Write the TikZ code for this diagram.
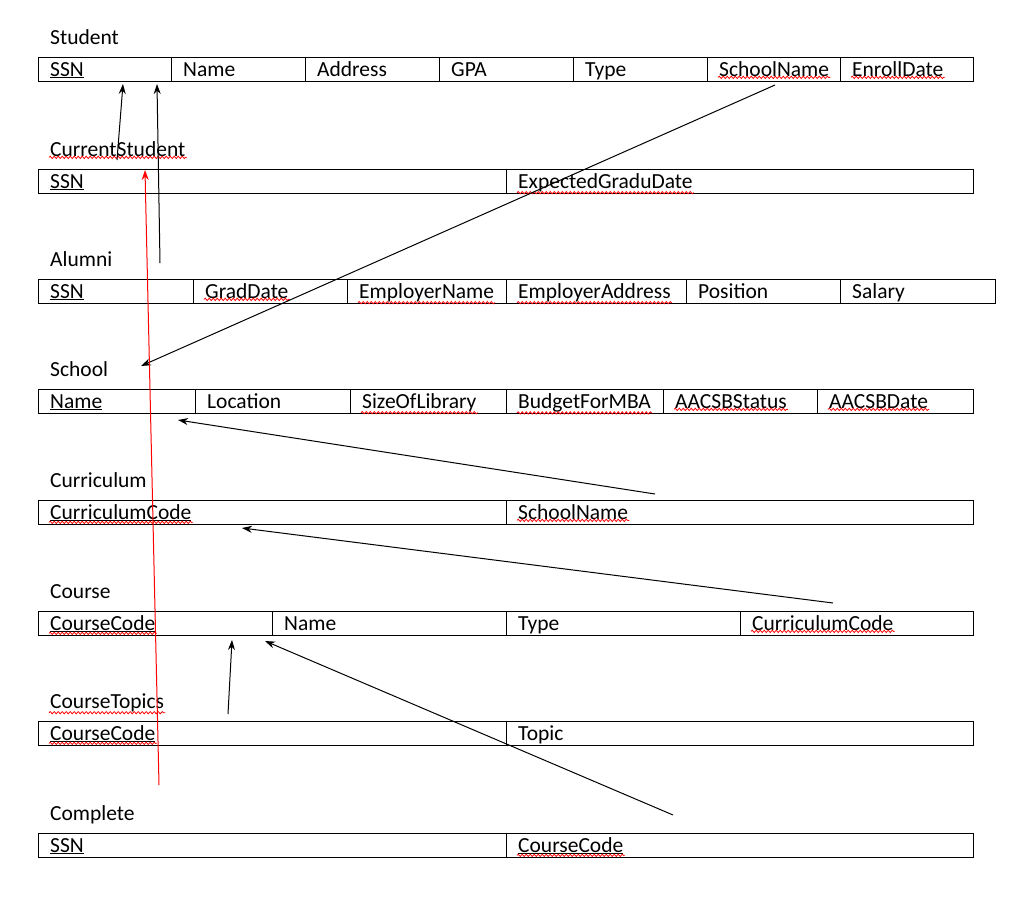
\documentclass[tikz,border=0pt]{standalone}
\usepackage{fontspec}
\setmainfont{Carlito}
\usetikzlibrary{arrows.meta, decorations.pathmorphing}

\tikzset{
  cell/.style={anchor=base west, inner sep=1pt, font=\fontsize{21.5}{24}\selectfont},
  plain/.style={},
  typo/.style={append after command={(\tikzlastnode.south west) edge[squiggle] (\tikzlastnode.south east)}},
  squiggle/.style={draw=red, line width=0.8pt, decorate, decoration={snake, amplitude=1.1pt, segment length=4pt}},
  fk/.style={-{Stealth[length=10pt,width=7pt]}, line width=1pt},
}

% #1 id, #2 title, #3 title style, #4 top y, #5 right x, #6 cells x/text/style
\newcommand{\relation}[6]{
  \node[cell,#3] (#1) at (49,#4-13) {#2};
  \draw[line width=1pt] (38,#4) rectangle (#5,#4+24);
  \foreach \x/\txt/\sty [count=\i] in {#6}{
    \ifnum\x>38 \draw[line width=1pt] (\x,#4) -- (\x,#4+24);\fi
    \node[cell,\sty] (#1-\i) at (\x+11,#4+19) {\txt};
  }
}

\begin{document}
\begin{tikzpicture}[x=1pt, y=-1pt]
\useasboundingbox (0,0) rectangle (1026,900);

% Relations
\relation{student}{Student}{plain}{57}{973}{38/\underline{SSN}/plain, 171/Name/plain, 305/Address/plain, 439/GPA/plain, 573/Type/plain, 707/SchoolName/typo, 840/EnrollDate/typo}
\relation{current}{CurrentStudent}{typo}{169}{973}{38/\underline{SSN}/plain, 506/ExpectedGraduDate/typo}
\relation{alumni}{Alumni}{plain}{279}{995}{38/\underline{SSN}/plain, 193/GradDate/typo, 347/EmployerName/typo, 506/EmployerAddress/typo, 686/Position/plain, 840/Salary/plain}
\relation{school}{School}{plain}{389}{973}{38/\underline{Name}/plain, 195/Location/plain, 350/SizeOfLibrary/typo, 506/BudgetForMBA/typo, 663/AACSBStatus/typo, 817/AACSBDate/typo}
\relation{curriculum}{Curriculum}{plain}{500}{973}{38/\underline{CurriculumCode}/typo, 506/SchoolName/typo}
\relation{course}{Course}{plain}{611}{973}{38/\underline{CourseCode}/typo, 272/Name/plain, 506/Type/plain, 740/CurriculumCode/typo}
\relation{topics}{CourseTopics}{typo}{721}{973}{38/\underline{CourseCode}/typo, 506/\underline{Topic}/plain}
\relation{complete}{Complete}{plain}{833}{973}{38/\underline{SSN}/plain, 506/\underline{CourseCode}/typo}

% Connector ends
\coordinate (current-fk) at (117,160);
\coordinate (alumni-fk) at (160,263);
\coordinate (student-fk) at (775,85);
\coordinate (curriculum-fk) at (655,494);
\coordinate (course-fk) at (833,603);
\coordinate (topics-fk) at (228,714);
\coordinate (complete-fk) at (673,815);
\coordinate (complete-ssn) at (159,785);
\coordinate (student-ssn-a) at (123,84);
\coordinate (student-ssn-b) at (157,84);
\coordinate (school-pk) at (141,366);
\coordinate (school-name) at (178,420);
\coordinate (curriculum-pk) at (242,528);
\coordinate (course-pk-a) at (232,640);
\coordinate (course-pk-b) at (265,641);
\coordinate (current-ssn) at (145,170);

% Foreign keys
\draw[fk] (current-fk) -- (student-ssn-a);
\draw[fk] (alumni-fk) -- (student-ssn-b);
\draw[fk] (student-fk) -- (school-pk);
\draw[fk] (curriculum-fk) -- (school-name);
\draw[fk] (course-fk) -- (curriculum-pk);
\draw[fk] (topics-fk) -- (course-pk-a);
\draw[fk] (complete-fk) -- (course-pk-b);
\draw[fk, red] (complete-ssn) -- (current-ssn);

\end{tikzpicture}
\end{document}
